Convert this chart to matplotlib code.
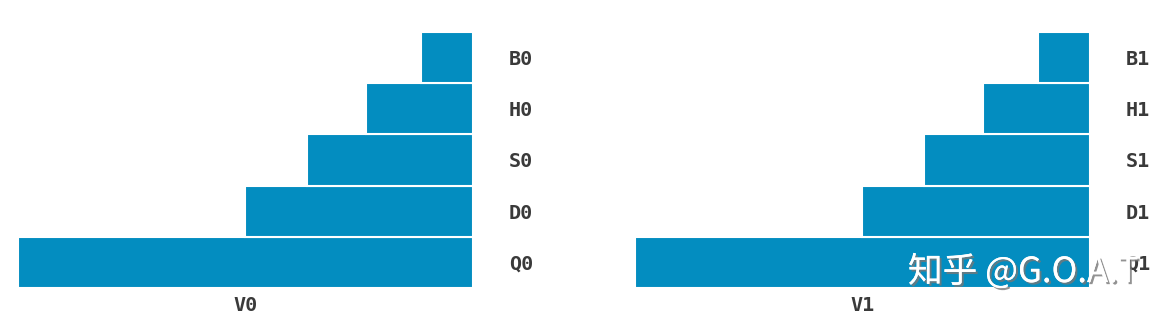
import matplotlib
matplotlib.use("Agg")
import matplotlib.pyplot as plt
import matplotlib.patheffects as pe

# 数据：从下到上
labels_v0 = ["Q0", "D0", "S0", "H0", "B0"]
labels_v1 = ["Q1", "D1", "S1", "H1", "B1"]
values_v0 = [100, 50, 36.5, 23.5, 11.4]
values_v1 = [100, 50, 36.5, 23.5, 11.4]
panel_names = ["V0", "V1"]

BAR_COLOR = "#038dc0"
TEXT_COLOR = "#3a3a3a"

fig = plt.figure(figsize=(11.73, 3.26), dpi=100)

panels = [
    (0.0153, labels_v0, values_v0, panel_names[0]),
    (0.5413, labels_v1, values_v1, panel_names[1]),
]

for left, labels, values, name in panels:
    ax = fig.add_axes([left, 0.1166, 0.3879, 0.7853])
    y = range(len(labels))
    ax.barh(y, values, height=1.0, color=BAR_COLOR, edgecolor="white", linewidth=1.5)
    ax.set_xlim(max(values), 0)  # 条从右往左长
    ax.set_ylim(-0.5, len(labels) - 0.5)
    ax.set_yticks(list(y))
    ax.set_yticklabels(labels, family="DejaVu Sans Mono", fontweight="bold",
                       fontsize=14.5, color=TEXT_COLOR)
    ax.yaxis.tick_right()
    ax.tick_params(axis="y", length=0, pad=26)
    ax.set_xticks([])
    ax.set_xlabel(name, family="DejaVu Sans Mono", fontweight="bold",
                  fontsize=14.5, color=TEXT_COLOR, labelpad=6)
    for s in ax.spines.values():
        s.set_visible(False)

# 水印
fig.text(0.774, 0.165, "知乎 @G.O.A.T", family=["Noto Sans CJK SC", "DejaVu Sans"],
         fontsize=25, color="white", ha="left", va="center",
         path_effects=[pe.withSimplePatchShadow(offset=(1.5, -1.5), shadow_rgbFace="#777777", alpha=0.8),
                       pe.Normal()])

fig.savefig("out.png", dpi=100)
